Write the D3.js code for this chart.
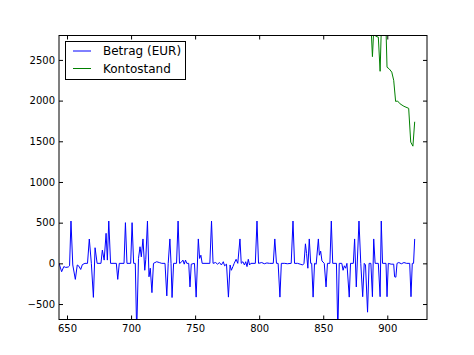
<!DOCTYPE html>
<html>
<head>
<meta charset="utf-8">
<script src="https://cdn.jsdelivr.net/npm/d3@7"></script>
<style>
  html, body { margin: 0; padding: 0; background: #fff; }
  svg { display: block; font-family: "DejaVu Sans", sans-serif; }
</style>
</head>
<body>
<svg id="chart" width="474" height="355"></svg>
<script>
// ---- data ----
const betragIndex = [643.8,645.8,647.5,649,651,652,653.1,654.5,656.5,658,659.3,660.7,662,664,666,667.4,669,670.6,671.9,673.5,676.5,677.6,679,680.5,681.5,682.6,684,688.5,689.6,690.8,694.5,695.6,696.8,699.7,700.8,702,703.3,704.4,705.8,707,708,709.3,710.7,711.5,712.8,714,715,716.3,717.5,720,722,724,726.5,727.9,729,730.3,731.2,732,733.2,735.5,736.7,737.8,739,740.5,741.5,742.5,743.5,745,746,747,749.5,750.8,752.5,753.5,754.5,755.5,761.5,762.8,764,766,767.5,769,770.5,772,773,774.5,776,777.3,778.3,779.5,780.5,782,783.3,785,786,787.3,788.5,789.5,790.5,791.5,792.5,793.5,797,798.3,799.5,802,804,806,808,811,812.2,813.5,814.8,816.2,817.3,820,822,825,826.4,827.6,830,832,834,835,836.1,837,838,839.1,840.2,841,842.1,843.2,844.5,846.2,847,848,849,850.8,852.2,853.3,855.2,856.3,857.4,860.3,861.4,862.5,864.5,865.5,866.5,867.5,868.5,870.3,871.3,873.5,874.5,875.8,877.9,879.3,880.8,882,883,884.6,885.8,887.2,888.4,889.4,890.5,893,894.4,895.3,896.3,899,899.8,900.8,903,905,905.7,906.7,907.6,909,911,913,915,917.5,918.5,919.5,920.5,921.4];
const betragValues = [0,-103,-40,-50,-45,-30,520,-20,-197,-20,-35,-75,-15,0,0,299,0,-418,192,0,0,163,40,369,40,520,0,0,-197,0,0,500,0,0,500,0,0,-850,60,204,80,300,-85,50,520,-165,-60,-360,0,20,10,0,0,-400,0,300,0,-420,0,0,520,0,10,40,-10,40,0,0,-290,-10,0,-415,300,60,100,0,0,520,0,10,-10,10,-20,20,-30,-10,-415,-20,-85,-40,0,50,0,300,0,20,-20,20,-40,50,-20,0,0,520,0,10,-5,5,0,0,300,0,0,-415,0,0,-5,0,520,0,0,-10,-20,0,240,120,-60,300,0,0,-415,0,-10,300,100,150,30,0,-290,0,0,520,0,0,-850,0,0,-85,-30,-60,0,-415,0,0,300,-290,520,0,-410,0,-20,-600,0,0,-410,300,0,0,-410,520,0,0,-410,0,-10,-10,-165,-170,0,10,-5,10,0,0,-410,0,0,300];

const kontoIndex = [870,880,886,887.5,888.4,889.3,891,893,894.4,895.3,897,899,899.8,901.5,903.5,905,906.5,908,910,913,916.7,918.3,920,921.4];
const kontoValues = [3300,3100,2950,2850,2540,2830,2790,2780,2360,2860,2900,2880,2410,2390,2350,2250,1990,1995,1960,1930,1905,1490,1440,1740];

const seriesNames = ["Betrag (EUR)", "Kontostand"];
const seriesColors = ["#0000ff", "#008000"];
const xTicks = [650, 700, 750, 800, 850, 900];
const yTicks = [-500, 0, 500, 1000, 1500, 2000, 2500];
const xDomain = [643.75, 931];
const yDomain = [-690, 2800];

// ---- layout ----
const svg = d3.select("#chart");
const L = 59, R = 427, T = 35.5, B = 319.5;
const x = d3.scaleLinear().domain(xDomain).range([L, R]);
const y = d3.scaleLinear().domain(yDomain).range([B, T]);

svg.append("defs").append("clipPath").attr("id", "clip")
  .append("rect").attr("x", L).attr("y", T).attr("width", R - L).attr("height", B - T);

const fmt = d => (d < 0 ? "\u2212" + Math.abs(d) : String(d));

// lines
const betrag = betragIndex.map((d, i) => [d, betragValues[i]]);
const konto = kontoIndex.map((d, i) => [d, kontoValues[i]]);
const line = d3.line().x(d => x(d[0])).y(d => y(d[1]));
const plot = svg.append("g").attr("clip-path", "url(#clip)");
plot.append("path").datum(betrag).attr("d", line)
  .attr("fill", "none").attr("stroke", seriesColors[0]).attr("stroke-width", 1);
plot.append("path").datum(konto).attr("d", line)
  .attr("fill", "none").attr("stroke", seriesColors[1]).attr("stroke-width", 1);

// axes (ticks pointing inward, on all sides)
function styleAxis(g) {
  g.select(".domain").remove();
  g.selectAll(".tick line").attr("stroke", "#000").attr("stroke-width", 1);
  g.selectAll(".tick text").attr("fill", "#000").style("font-size", "10px")
    .style("font-family", "'DejaVu Sans', sans-serif");
}
svg.append("g").attr("transform", `translate(0,${B})`)
  .call(d3.axisBottom(x).tickValues(xTicks).tickFormat(fmt).tickSizeInner(-4).tickSizeOuter(0).tickPadding(5))
  .call(styleAxis);
svg.append("g").attr("transform", `translate(0,${T})`)
  .call(d3.axisTop(x).tickValues(xTicks).tickFormat("").tickSizeInner(-4).tickSizeOuter(0))
  .call(styleAxis);
svg.append("g").attr("transform", `translate(${L},0)`)
  .call(d3.axisLeft(y).tickValues(yTicks).tickFormat(fmt).tickSizeInner(-4).tickSizeOuter(0).tickPadding(4))
  .call(styleAxis);
svg.append("g").attr("transform", `translate(${R},0)`)
  .call(d3.axisRight(y).tickValues(yTicks).tickFormat("").tickSizeInner(-4).tickSizeOuter(0))
  .call(styleAxis);

// frame
svg.append("rect").attr("x", L).attr("y", T).attr("width", R - L).attr("height", B - T)
  .attr("fill", "none").attr("stroke", "#000").attr("stroke-width", 1);

// legend
const leg = svg.append("g");
leg.append("rect").attr("x", 65.5).attr("y", 41.5).attr("width", 120).attr("height", 38)
  .attr("fill", "#fff").attr("stroke", "#000").attr("stroke-width", 1);
seriesNames.forEach((name, i) => {
  const yy = 51 + i * 17.5;
  leg.append("line").attr("x1", 73).attr("x2", 91).attr("y1", yy).attr("y2", yy)
    .attr("stroke", seriesColors[i]).attr("stroke-width", 1);
  leg.append("text").attr("x", 103).attr("y", yy).attr("dy", "0.35em")
    .style("font-size", "12px").attr("fill", "#000").text(name);
});
</script>
</body>
</html>
